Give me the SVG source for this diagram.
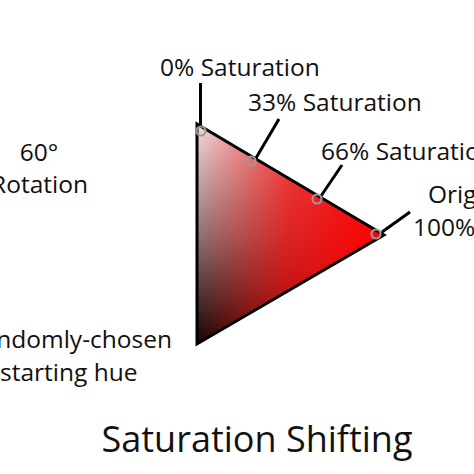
<svg xmlns="http://www.w3.org/2000/svg" width="474" height="474" viewBox="0 0 474 474">
<style>
text{font-family:"Open Sans","Noto Sans","Liberation Sans",sans-serif;fill:#111;font-size:24.5px}
.lead{stroke:#000;stroke-width:3;fill:none}
.pt{fill:none;stroke:#9a9a9a;stroke-width:2.2}
</style>
<defs>
<linearGradient id="vg" gradientUnits="userSpaceOnUse" x1="0" y1="124" x2="0" y2="344">
<stop offset="0" stop-color="#f4f0f0"/>
<stop offset="0.5" stop-color="#858080"/>
<stop offset="1" stop-color="#000"/>
</linearGradient>
<linearGradient id="rg" gradientUnits="userSpaceOnUse" x1="197" y1="0" x2="384" y2="0">
<stop offset="0" stop-color="#ff0000" stop-opacity="0.08"/>
<stop offset="0.5" stop-color="#ff0000" stop-opacity="0.72"/>
<stop offset="1" stop-color="#ff0000" stop-opacity="1"/>
</linearGradient>
</defs>
<g id="triangle">
<polygon points="197,124 384,235 197,344" fill="url(#vg)"/>
<polygon points="197,124 384,235 197,344" fill="url(#rg)"/>
<polygon points="197,124 384,235 197,344" fill="none" stroke="#000" stroke-width="3"/>
</g>
<g id="connectors">
<line class="lead" x1="200.5" y1="83" x2="200.5" y2="126"/>
<line class="lead" x1="279" y1="119" x2="256" y2="158"/>
<line class="lead" x1="342" y1="165" x2="321" y2="196"/>
<line class="lead" x1="410" y1="212" x2="382" y2="232"/>
</g>
<g id="points">
<circle class="pt" cx="201" cy="131" r="4.5"/>
<circle class="pt" cx="251" cy="161" r="4.5"/>
<circle class="pt" cx="317" cy="199" r="4.5"/>
<circle class="pt" cx="376" cy="234" r="4.5"/>
</g>
<g id="label-0"><text x="160" y="76">0% Saturation</text></g>
<g id="label-33"><text x="248" y="111">33% Saturation</text></g>
<g id="label-66"><text x="321" y="160">66% Saturation</text></g>
<g id="label-100"><text x="428" y="203">Original</text><text x="413" y="236">100% Saturation</text></g>
<g id="label-rotation"><text x="39" y="161" text-anchor="middle">60°</text><text x="88" y="193" text-anchor="end">Rotation</text></g>
<g id="label-hue"><text x="172" y="348" text-anchor="end">Randomly-chosen</text><text x="0" y="381">starting hue</text></g>
<g id="title"><text x="257" y="452" text-anchor="middle" style="font-size:36px">Saturation Shifting</text></g>
</svg>
